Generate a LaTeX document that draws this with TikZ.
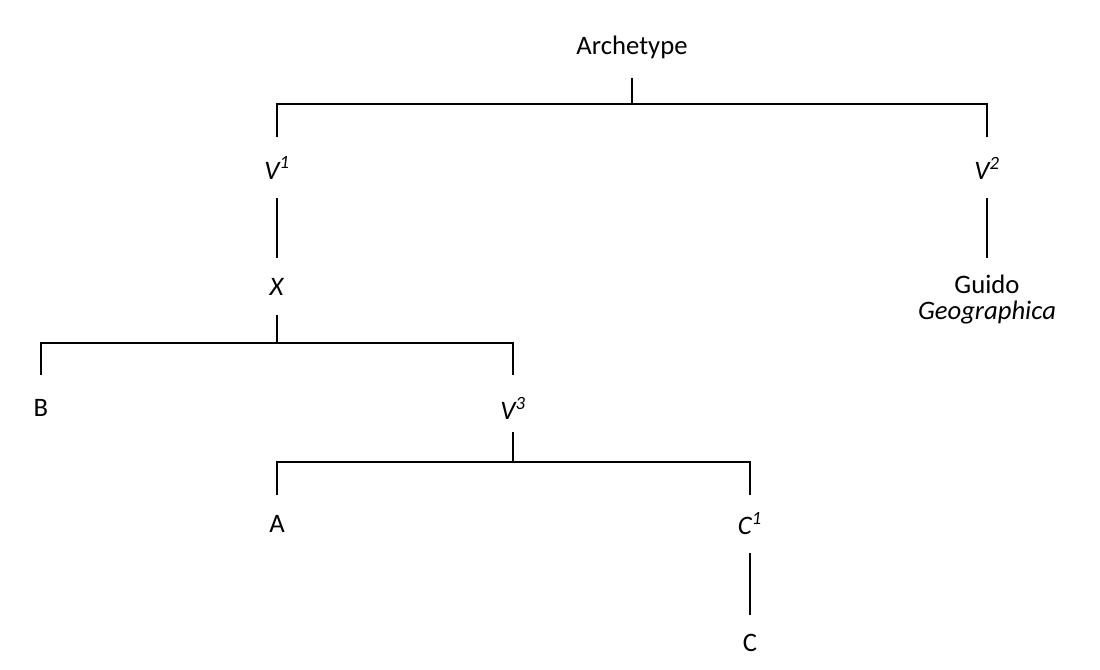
\documentclass[tikz,border=0pt]{standalone}
\usepackage{fontspec}
\setmainfont{Carlito}
\begin{document}
\begin{tikzpicture}[x=0.75pt,y=-0.75pt,
  lbl/.style={inner sep=0pt,font=\fontsize{20}{24}\selectfont},
  ln/.style={line width=1.4pt}]
\useasboundingbox (0,0) rectangle (1100,670);
\node[lbl] (arch) at (632,47) {Archetype};
\node[lbl] (v1) at (277,168) {\textit{V\textsuperscript{1}}};
\node[lbl] (v2) at (987,168) {\textit{V\textsuperscript{2}}};
\node[lbl] (x) at (277,287) {\textit{X}};
\node[lbl] (guido) at (987,284) {Guido};
\node[lbl] (geo) at (987,313) {\textit{Geographica}};
\node[lbl] (b) at (41,408) {B};
\node[lbl] (v3) at (513,408) {\textit{V\textsuperscript{3}}};
\node[lbl] (a) at (277,524) {A};
\node[lbl] (c1) at (750,524) {\textit{C\textsuperscript{1}}};
\node[lbl] (c) at (750,643) {C};
% bracket coordinates
\coordinate (t1) at (632,78); \coordinate (j1) at (632,104);
\coordinate (l1) at (277,137); \coordinate (r1) at (987,137);
\coordinate (t2) at (277,315); \coordinate (j2) at (277,343);
\coordinate (l2) at (41,375); \coordinate (r2) at (513,375);
\coordinate (t3) at (513,432); \coordinate (j3) at (513,462);
\coordinate (l3) at (277,495); \coordinate (r3) at (750,495);
\draw[ln] (t1) -- (j1);
\draw[ln] (l1) |- (j1) -| (r1);
\draw[ln] (t2) -- (j2);
\draw[ln] (l2) |- (j2) -| (r2);
\draw[ln] (t3) -- (j3);
\draw[ln] (l3) |- (j3) -| (r3);
\draw[ln] (277,198) -- (277,258);
\draw[ln] (987,198) -- (987,258);
\draw[ln] (750,553) -- (750,615);
\end{tikzpicture}
\end{document}
